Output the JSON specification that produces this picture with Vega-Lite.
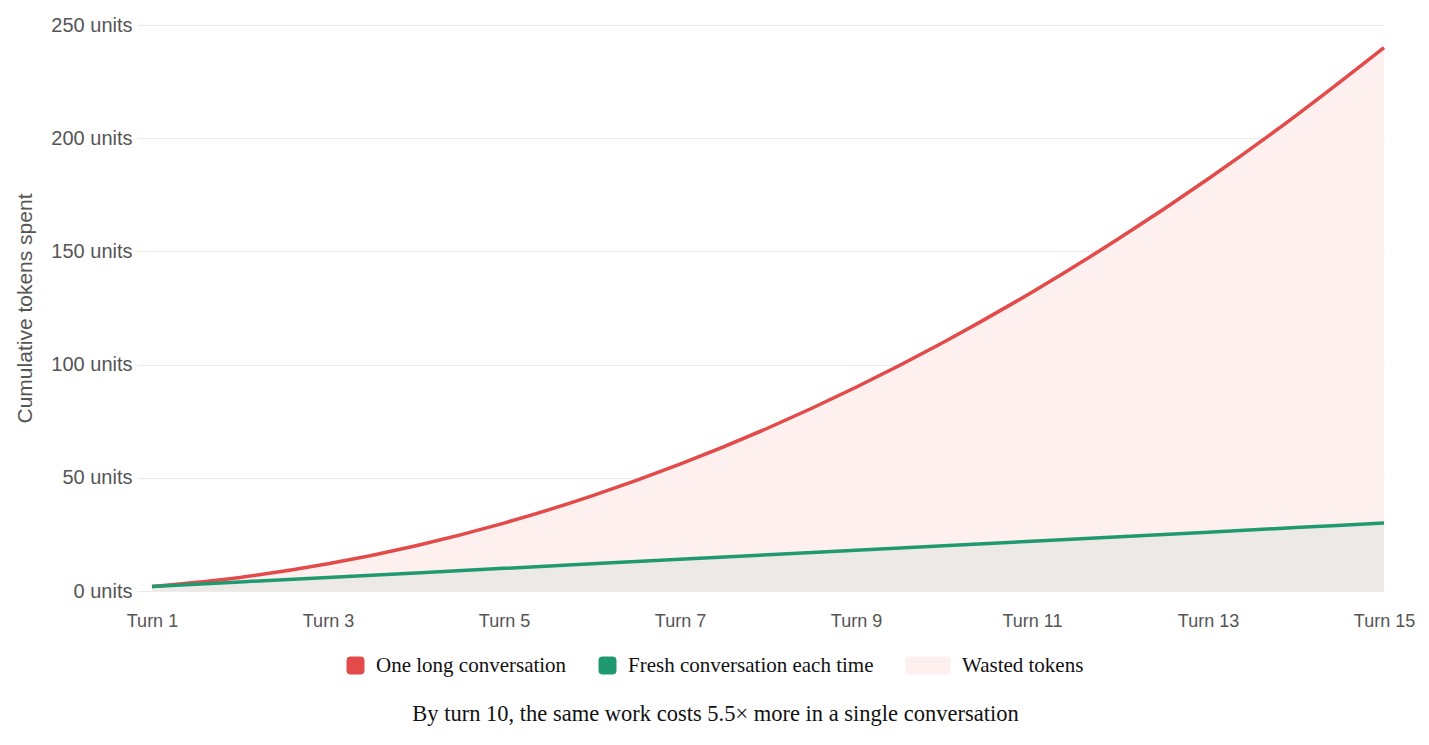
{
  "$schema": "https://vega.github.io/schema/vega-lite/v6.json",
  "autosize": "none",
  "padding": {"left": 137, "top": 25, "right": 45, "bottom": 154},
  "width": 1247,
  "height": 566,
  "background": "white",
  "config": {
    "view": {"stroke": null},
    "font": "Liberation Sans"
  },
  "title": {
    "text": "By turn 10, the same work costs 5.5× more in a single conversation",
    "orient": "bottom",
    "anchor": "middle",
    "font": "Liberation Serif",
    "fontSize": 22.5,
    "fontWeight": "normal",
    "color": "#111111",
    "offset": 27,
    "dx": -45
  },
  "datasets": {
    "wide": [
      {"turn": 1, "long": 2, "fresh": 2},
      {"turn": 2, "long": 6, "fresh": 4},
      {"turn": 3, "long": 12, "fresh": 6},
      {"turn": 4, "long": 20, "fresh": 8},
      {"turn": 5, "long": 30, "fresh": 10},
      {"turn": 6, "long": 42, "fresh": 12},
      {"turn": 7, "long": 56, "fresh": 14},
      {"turn": 8, "long": 72, "fresh": 16},
      {"turn": 9, "long": 90, "fresh": 18},
      {"turn": 10, "long": 110, "fresh": 20},
      {"turn": 11, "long": 132, "fresh": 22},
      {"turn": 12, "long": 156, "fresh": 24},
      {"turn": 13, "long": 182, "fresh": 26},
      {"turn": 14, "long": 210, "fresh": 28},
      {"turn": 15, "long": 240, "fresh": 30}
    ]
  },
  "data": {"name": "wide"},
  "encoding": {
    "x": {
      "field": "turn",
      "type": "quantitative",
      "scale": {"domain": [0.83, 15], "nice": false, "zero": false},
      "axis": {
        "values": [1, 3, 5, 7, 9, 11, 13, 15],
        "labelExpr": "'Turn ' + datum.value",
        "title": null,
        "grid": false,
        "domain": false,
        "ticks": false,
        "labelFontSize": 18,
        "labelColor": "#555555",
        "labelPadding": 21,
        "labelFlush": false
      }
    }
  },
  "layer": [
    {
      "mark": {"type": "area", "interpolate": "monotone", "color": "#ede9e6"},
      "encoding": {
        "y": {
          "field": "fresh",
          "type": "quantitative",
          "scale": {"domain": [0, 250], "nice": false},
          "axis": {
            "values": [0, 50, 100, 150, 200, 250],
            "labelExpr": "datum.value + ' units'",
            "title": "Cumulative tokens spent",
            "titleFontSize": 21,
            "titleFontWeight": "normal",
            "titleColor": "#555555",
            "titlePadding": 15,
            "labelFontSize": 20,
            "labelColor": "#555555",
            "labelPadding": 5,
            "domain": false,
            "ticks": false,
            "gridColor": "#ebebeb",
            "gridWidth": 1
          }
        }
      }
    },
    {
      "mark": {"type": "area", "interpolate": "monotone", "opacity": 1},
      "encoding": {
        "y": {"field": "long", "type": "quantitative"},
        "y2": {"field": "fresh"},
        "color": {"datum": "Wasted tokens", "type": "nominal"}
      }
    },
    {
      "transform": [
        {"fold": ["long", "fresh"], "as": ["key", "value"]},
        {"lookup": "key", "from": {"data": {"values": [
          {"key": "long", "series": "One long conversation"},
          {"key": "fresh", "series": "Fresh conversation each time"}
        ]}, "key": "key", "fields": ["series"]}}
      ],
      "mark": {"type": "line", "interpolate": "monotone", "strokeWidth": 3.5},
      "encoding": {
        "y": {"field": "value", "type": "quantitative"},
        "color": {
          "field": "series",
          "type": "nominal",
          "scale": {
            "domain": ["One long conversation", "Fresh conversation each time", "Wasted tokens"],
            "range": ["#e34b4b", "#1f9a70", "#fdf0ef"]
          },
          "legend": {
            "orient": "none",
            "legendX": 208,
            "legendY": 630,
            "direction": "horizontal",
            "title": null,
            "symbolType": "M-0.65,-1H0.65Q1,-1 1,-0.65V0.65Q1,1 0.65,1H-0.65Q-1,1 -1,0.65V-0.65Q-1,-1 -0.65,-1Z",
            "symbolSize": 289,
            "symbolStrokeWidth": 1,
            "labelFont": "Liberation Serif",
            "labelFontSize": 21,
            "labelColor": "#111111",
            "labelLimit": 0,
            "labelOffset": 10,
            "columnPadding": 30,
            "encode": {
              "symbols": {
                "update": {
                  "fill": {"scale": "color", "field": "value"},
                  "stroke": {"signal": "datum.value === 'Wasted tokens' ? '#f6cdc8' : scale('color', datum.value)"},
                  "shape": {"signal": "datum.value === 'Wasted tokens' ? 'M-0.65,-1H3.83Q4.18,-1 4.18,-0.65V0.65Q4.18,1 3.83,1H-0.65Q-1,1 -1,0.65V-0.65Q-1,-1 -0.65,-1Z' : 'M-0.65,-1H0.65Q1,-1 1,-0.65V0.65Q1,1 0.65,1H-0.65Q-1,1 -1,0.65V-0.65Q-1,-1 -0.65,-1Z'"},
                  "fillOpacity": {"value": 1},
                  "opacity": {"value": 1}
                }
              },
              "labels": {
                "update": {
                  "dx": {"signal": "datum.value === 'Wasted tokens' ? 27 : 0"}
                }
              }
            }
          }
        }
      }
    }
  ]
}
